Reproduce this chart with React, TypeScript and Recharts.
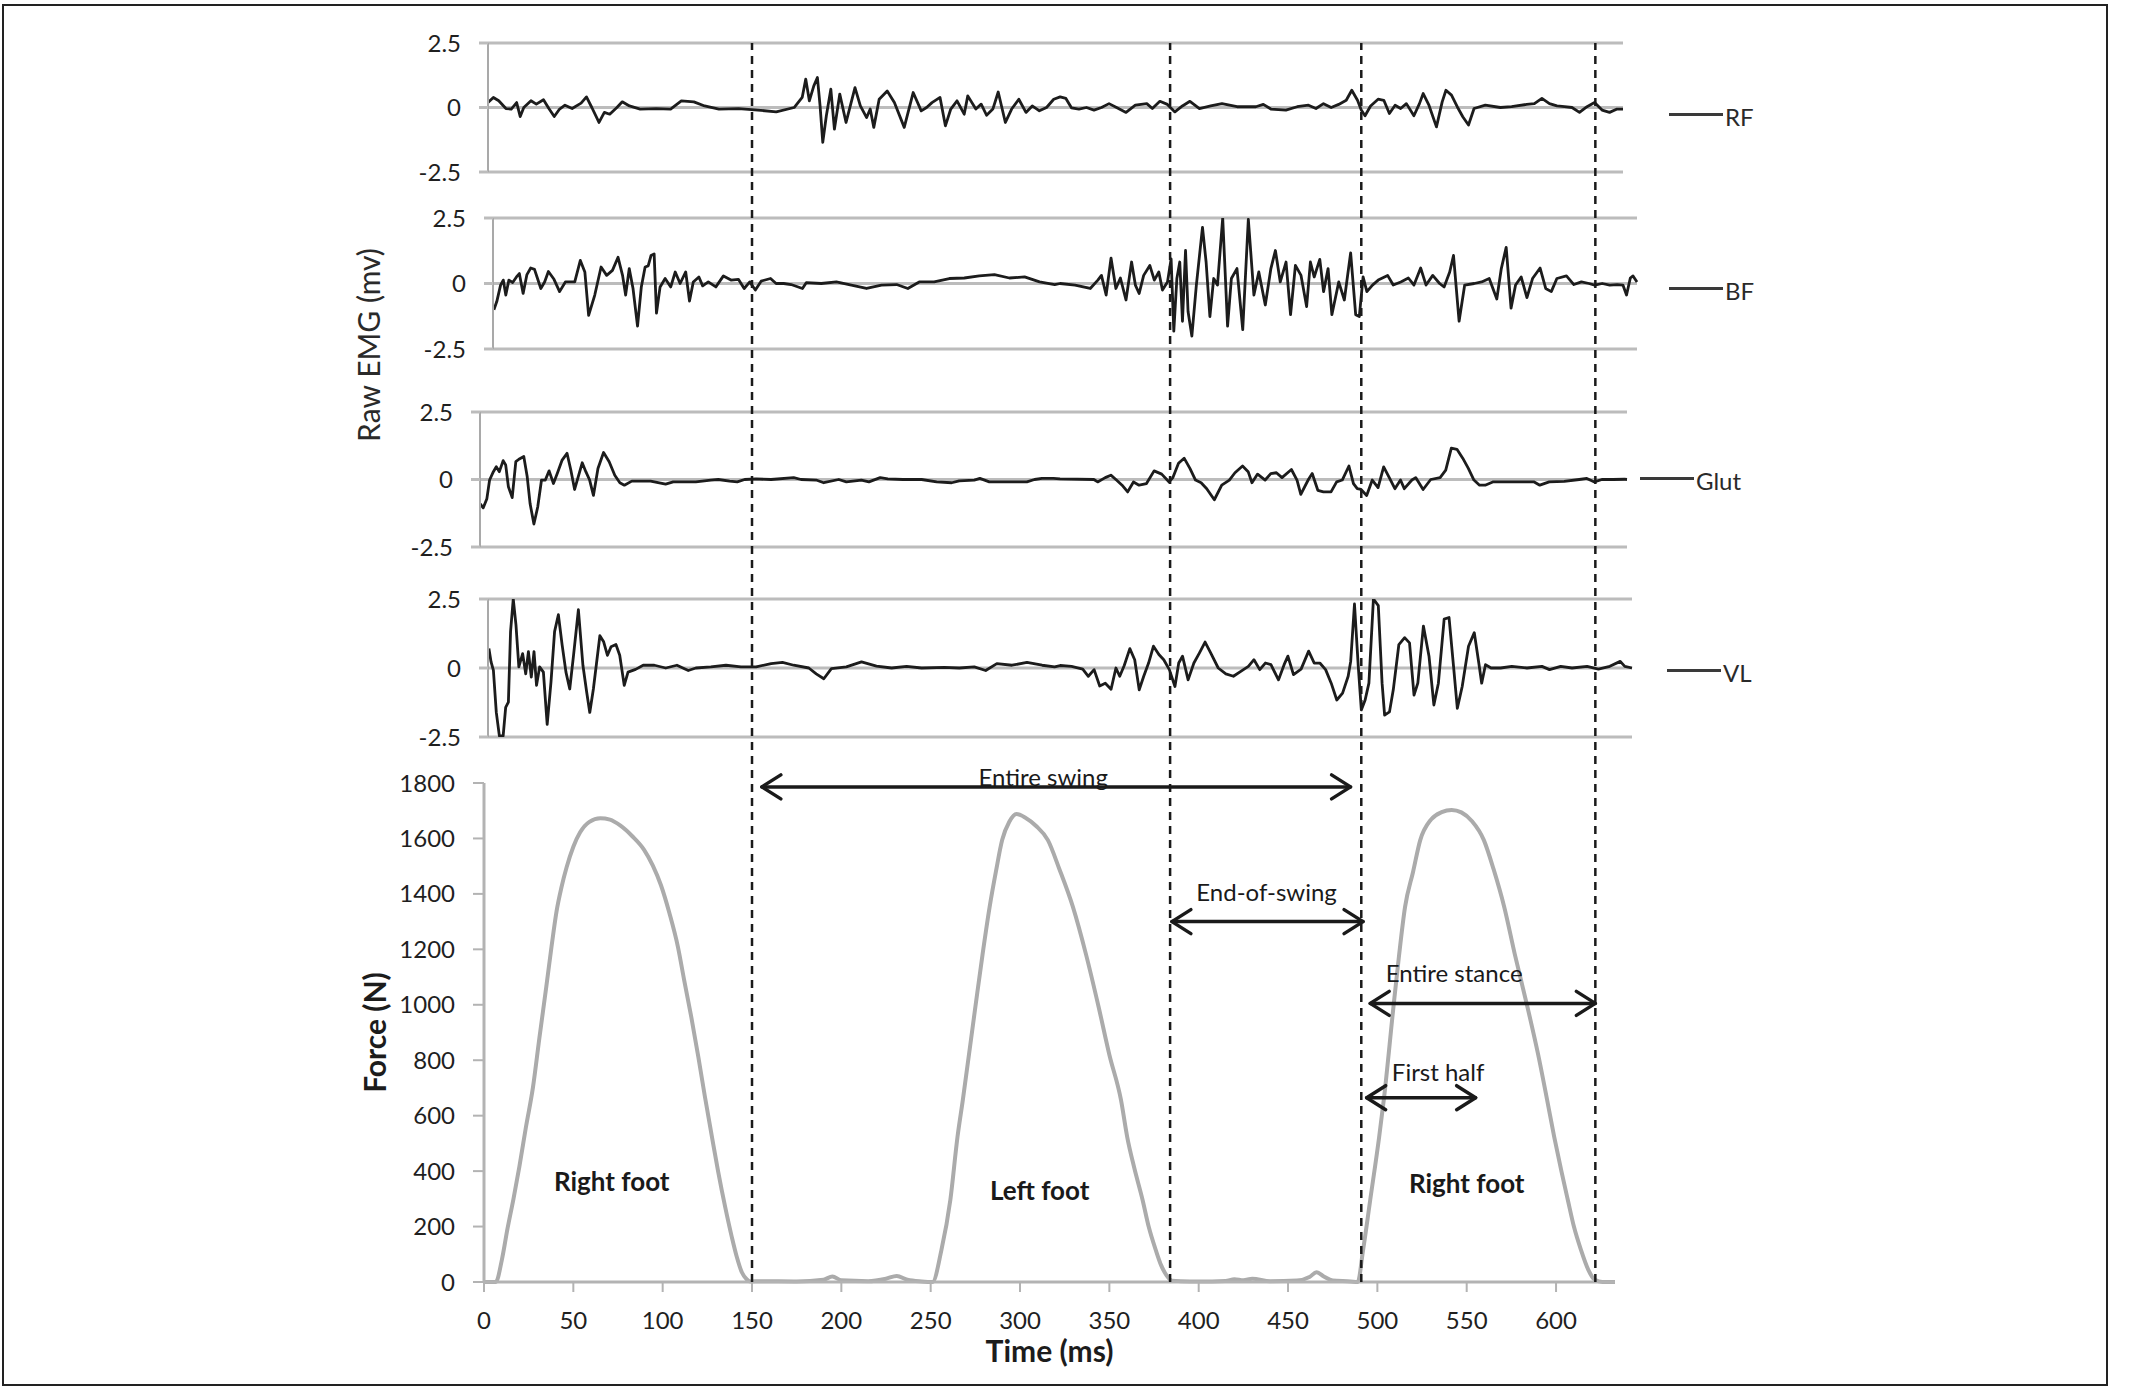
import React from 'react';
import {
  LineChart,
  Line,
  XAxis,
  YAxis,
  CartesianGrid,
  ReferenceLine,
  ReferenceDot,
  Legend,
} from 'recharts';

const FONT = "Lato, 'Open Sans', 'DejaVu Sans', sans-serif";
const W = 2134;
const H = 1388;
const INK = '#1c1c1c';
const GRID = '#bcbcbc';
const AXIS = '#a9a9a9';
const FORCE_AXIS = '#b3b3b3';
const FORCE_LINE = '#ababab';

// ---------- tick labels ----------
const timeTicks = [0, 50, 100, 150, 200, 250, 300, 350, 400, 450, 500, 550, 600];
const forceTicks = [0, 200, 400, 600, 800, 1000, 1200, 1400, 1600, 1800];
const emgTicks = [-2.5, 0, 2.5];

// ---------- vertical ground-contact boundaries (ms) ----------
const phaseBoundaries = [150, 384, 491, 622];

// ---------- phase arrows ----------
const phaseNames = ['Entire swing', 'End-of-swing', 'Entire stance', 'First half'];
const phaseStart = [155.5, 385, 496, 494];
const phaseEnd = [485, 492, 622, 555];
const phaseLevel = [1786, 1300, 1005, 665];
const phaseLabelTime = [313, 438, 543, 534];
const phaseLabelForce = [1822, 1407, 1118, 761];

// ---------- foot labels ----------
const footNames = ['Right foot', 'Left foot', 'Right foot'];
const footLabelTime = [71.5, 311, 550];
const footLabelForce = [364, 332, 357];

// ---------- vertical ground reaction force ----------
const forceTime = [
  0, 4, 6.6, 10, 13.2, 16.5, 19.8, 23.5, 27.4, 31, 34.9, 37.8, 40.6, 43.4, 46.2, 50, 53.8, 59, 65.1, 70.5,
  76.4, 83, 89.6, 94.5, 99, 103.8, 108.5, 112, 116, 120, 123.6, 127.4, 131, 135, 138.7, 141.5, 144.3, 147, 149,
  155, 175, 190, 195, 200, 215, 225, 231, 237, 245, 251,
  256, 261, 265, 268, 275, 279, 283, 286.5, 290, 294, 298, 303, 309, 315.6, 322, 329.6, 337, 344, 350, 356.5,
  360, 364, 368.6, 372, 376, 379, 382, 385,
  390, 400, 415, 420, 425, 430, 440, 455, 462, 466, 470, 475, 485, 489,
  492, 496, 501, 503.6, 509, 512, 515.5, 520, 524, 530, 536, 541.6, 547, 553, 559.6, 565, 571, 577, 584, 590,
  595, 599, 603, 606.6, 610, 614, 618, 621.7, 626, 633,
];
const forceN = [
  0, 0, 0, 80, 194, 300, 416, 560, 702, 880, 1067, 1210, 1337, 1425, 1495, 1570, 1622, 1660, 1673, 1668,
  1646, 1608, 1559, 1502, 1432, 1330, 1210, 1090, 956, 810, 670, 530, 400, 270, 162, 90, 35, 10, 2,
  3, 2, 8, 20, 6, 3, 12, 22, 8, 2, 0,
  115, 296, 523, 657, 992, 1180, 1353, 1480, 1594, 1660, 1688, 1675, 1645, 1594, 1490, 1353, 1180, 992, 820, 657,
  523, 410, 296, 200, 115, 60, 24, 5,
  3, 2, 4, 10, 6, 12, 3, 5, 18, 35, 20, 5, 2, 0,
  115, 296, 523, 657, 992, 1170, 1353, 1480, 1594, 1668, 1695, 1703, 1694, 1662, 1594, 1490, 1353, 1180, 992, 820,
  657, 523, 400, 296, 200, 115, 45, 8, 0, 0,
];

// ---------- RF (rectus femoris) ----------
const rfTime = [
  0, 3, 6, 10, 13, 16, 18, 20, 24, 27, 31, 34, 37, 40, 43, 47, 52, 55, 58, 62, 65, 68, 72, 75, 79, 85, 94, 102,
  108, 115, 121, 129, 140, 149, 161, 171, 175.5, 177.5, 179.5, 182, 184, 185.5, 187, 189, 191.5, 193.5, 196.5,
  200, 205, 208, 211.5, 213.5, 215.5, 218.5, 223, 227, 232.5, 237.5, 242, 245, 248, 252.5, 255.5, 258.5, 262,
  266, 268, 272.5, 275.5, 278.5, 282, 285, 289, 292.5, 296.5, 300.5, 304, 308, 312, 316,
  319.6, 322.8, 325.9, 330.1, 334.3, 338.5, 342.7, 346.9, 351.1, 356.4, 361.6, 368, 371.1, 375.3, 379.5, 383.7,
  387.9, 392.1, 397.4, 403.7, 410, 418.4, 428.9, 433.1, 437.3, 445.7, 452, 458.3, 462.5, 466.7, 471, 475.2,
  479.4, 482.5, 485.7, 487.8, 489.9, 493, 497.2, 500.4, 503.5, 506.7, 509.8, 513, 517.2, 520.3, 522.4, 525.6,
  529.8, 533, 535.1, 538.2, 541.4, 544.5, 547.7, 550.8, 557.1, 565.5, 571.8, 580.2, 584.5, 588.7, 592.9, 597.1,
  601.3, 605.5, 609.7, 613.9, 618.1, 622.3, 626.5, 630.7, 634,
];
const rfMv = [
  0.19, 0.39, 0.26, -0.04, -0.06, 0.19, -0.35, 0, 0.26, 0.13, 0.3, -0.04, -0.35, -0.06, 0.09, -0.04, 0.17, 0.41,
  0, -0.58, -0.19, -0.26, 0, 0.22, 0.06, -0.06, -0.04, -0.06, 0.26, 0.22, 0.06, -0.06, -0.04, -0.09, -0.17, 0,
  0.39, 1.1, 0.26, 0.84, 1.16, 0.06, -1.35, -0.32, 0.71, -0.84, 0.52, -0.58, 0.77, 0.06, -0.39, -0.06, -0.77,
  0.32, 0.64, 0.19, -0.77, 0.58, -0.13, 0, 0.19, 0.39, -0.71, -0.06, 0.26, -0.26, 0.45, -0.06, 0.13, -0.3,
  -0.06, 0.6, -0.58, -0.06, 0.32, -0.19, 0.06, -0.13, 0, 0.32,
  0.41, 0.35, -0.01, -0.06, 0, -0.1, 0, 0.15, 0, -0.19, 0.09, 0.15, -0.04, 0.24, 0.12, -0.17,
  0.06, 0.24, -0.04, 0.06, 0.15, 0.03, 0.03, 0.12, -0.06, -0.1, 0.03, 0.09, -0.04, 0.15, 0, 0.12,
  0.28, 0.67, 0.28, -0.1, -0.32, 0.06, 0.32, 0.28, -0.23, 0.09, -0.04, 0.15, -0.32, 0.15, 0.54, 0.09,
  -0.75, 0.22, 0.67, 0.48, 0.03, -0.36, -0.68, -0.04, 0.09, 0, 0.03, 0.12, 0.15, 0.35, 0.15, 0.06,
  0.03, 0, -0.19, 0.03, 0.19, -0.1, -0.19, -0.06, -0.06,
];

// ---------- BF (biceps femoris) ----------
const bfTime = [
  0.5, 2.1, 4.2, 5.7, 7.1, 8.8, 10.9, 13, 14.6, 16.7, 18.8, 20.9, 23, 24.4, 26.5, 28.6, 30.7, 33.8, 36.9, 40.1,
  45.3, 48.4, 50.9, 53, 56.4, 59.9, 63, 66.2, 69.3, 71.8, 73.5, 75.5, 77.6, 80.1, 82.2, 84.3, 86, 87.6, 89.3,
  90.6, 92.6, 95.4, 98.5, 101, 103.7, 106.8, 108.9, 111, 114.1, 116.2, 119.3, 123.5, 127.7, 131.9, 136, 139.2,
  142.3, 145.4, 148.6, 153.8, 156.9, 161.1, 165.2, 171.5, 173.6, 181.9, 190.3, 198.6, 207, 215.3, 223.7, 229.9,
  236.2, 244.5, 252.9, 261.2, 269.5, 277.9, 286.2, 294.6, 302.9, 311.3,
  314.3, 322.6, 331, 335.2, 337.2, 339.8, 342.5, 345.2, 347.7, 350.8, 353.9, 356, 358.1, 360.6, 364, 366.5,
  369, 371, 373.8, 375.8, 377.3, 379, 380.6, 382.1, 383.8, 385.2, 387.3, 389.8, 393.2, 395.2, 397.3, 399.4,
  401.5, 404.4, 407.1, 409.2, 412.3, 415.5, 418.6, 421.7, 424.4, 428, 431.1, 433.6, 436.3, 439.5, 442, 444.7,
  447.8, 450.9, 453, 455.1, 458.2, 460.3, 462.8, 464.9, 468.7, 471.8, 475.3, 478.1, 480.1, 482.2, 484.3, 487.4,
  490.6, 495.8, 498.9, 503.1, 507.3, 510.4, 514.1, 517.1, 520.8, 524.6, 527.1, 530.2, 532.3, 535.4, 538.5,
  543.8, 547.9, 552.1, 556.3, 558.8, 561.5, 564.2, 566.7, 569.8, 573, 576.1, 580.3, 583.4, 586.5, 589.6, 594.9,
  599, 603.2, 607.4, 610.5, 614.7, 618.9, 623, 626.2, 628.2, 630.3, 631.8, 634,
];
const bfMv = [
  -1.0, -0.69, -0.06, 0.13, -0.44, 0.13, 0.04, 0.25, 0.38, -0.38, 0.34, 0.59, 0.54, 0.25, -0.19, 0.06, 0.46, 0.16,
  -0.31, 0.06, 0.06, 0.88, 0.44, -1.22, -0.44, 0.63, 0.31, 0.5, 1.0, 0.31, -0.44, 0.57, -0.19, -1.63, -0.13, 0.63,
  0.67, 1.07, 1.13, -1.13, -0.13, 0.19, -0.13, 0.44, 0, 0.44, -0.67, 0.06, 0.25, -0.09, 0.06, -0.13, 0.29, 0.13,
  0.16, -0.19, 0.06, -0.25, 0.09, 0.19, 0, 0, -0.04, -0.19, 0.03, 0, 0.06, -0.06, -0.19, -0.06, -0.04, -0.19,
  0.06, 0.06, 0.19, 0.21, 0.29, 0.34, 0.21, 0.25, 0.06, -0.04,
  0, -0.06, -0.19, 0.13, 0.31, -0.44, 0.97, -0.19, 0.21, -0.63, 0.82, -0.06, -0.38, 0.31, 0.69, 0.13,
  0.44, -0.25, 0.06, 0.94, -1.82, 0.19, 0.82, -1.44, 1.26, -1.07, -2.01, -0.06, 2.14, 0.82, -1.26, 0.19,
  -0.06, 2.5, -1.63, 0.19, 0.57, -1.76, 2.45, -0.44, 0.44, -0.82, 0.57, 1.26, 0.06, 0.82, -1.19, 0.69,
  0.31, -0.88, 0.82, 0.25, 0.92, -0.31, 0.57, -1.19, 0.06, -0.63, 1.17, -1.19, -1.26, 0.25, -0.31, -0.06,
  0.13, 0.31, -0.06, 0.06, 0.21, -0.06, 0.59, -0.06, 0.31, 0, -0.13, 0.44, 1.07, -1.44, -0.06,
  0, 0.06, 0.19, -0.59, 0.57, 1.38, -0.94, -0.06, 0.25, -0.54, 0.19, 0.59, -0.19, -0.31, 0.19, 0.29,
  -0.04, 0.06, 0, -0.06, 0, -0.06, -0.04, -0.06, -0.44, 0.21, 0.29, 0.06,
];

// ---------- Glut (gluteus) ----------
const glutTime = [
  0.1, 1.8, 3.8, 5.3, 7.4, 9, 10.7, 12.8, 14.2, 15.7, 17.8, 19.8, 21.5, 24.2, 26.1, 27.7, 29.8, 31.9, 34, 36.1,
  38.2, 40.6, 42.7, 45.4, 48.1, 50.2, 52.3, 54.8, 56.5, 58.5, 60.6, 62.7, 65.2, 68.3, 71.4, 74.5, 77.3, 79.8,
  83.9, 94.3, 102.6, 106.8, 119.3, 127.6, 131.7, 138, 142.2, 146.3, 152.6, 160.9, 173.4, 177.5, 185.8, 190,
  198.3, 202.5, 210.8, 215, 221.2, 225.4, 233.7, 244.1, 252.4, 260.7, 264.9, 273.2, 276.3, 281.5, 289.8, 302.3,
  306.5, 310.6, 317,
  320.6, 339.3, 341.4, 345.6, 348.7, 351.8, 354.9, 358, 361.2, 364.3, 368.4, 372.6, 376.8, 380.9, 383, 386.1,
  389.2, 392.4, 395.5, 398.6, 401.7, 405.9, 410, 414.2, 417.3, 421.5, 424.6, 426.7, 429.8, 434, 437.1, 440.2,
  443.3, 448.5, 451.6, 453.7, 457.9, 460, 463.1, 466.2, 470.4, 473.5, 476.6, 480.3, 482.8, 484.9, 487, 490.1,
  493.2, 496.4, 499.5, 502.6, 505.7, 508.8, 510.9, 515.1, 517.2, 521.3, 525.5, 530.7, 533.8, 536.9, 540, 543.2,
  546.3, 549.4, 552.5, 555.6, 559.8, 570.2, 582.7, 585.8, 591, 599.3, 607.6, 611.8, 616, 620.1, 626.4, 632.6, 634,
];
const glutMv = [
  -0.9, -1.05, -0.71, -0.02, 0.29, 0.47, 0.29, 0.7, 0.54, -0.27, -0.67, 0.66, 0.75, 0.85, 0.1, -0.9, -1.65, -1.02,
  -0.02, -0.02, 0.32, -0.15, 0.22, 0.72, 0.97, 0.35, -0.37, 0.22, 0.62, 0.29, -0.02, -0.59, 0.41, 1.0, 0.66, 0.16,
  -0.12, -0.21, -0.06, -0.06, -0.17, -0.09, -0.09, -0.02, 0, -0.06, -0.09, 0, 0.02, 0, 0.07, 0, -0.02, -0.12,
  0, -0.09, -0.02, -0.09, 0.07, 0.02, 0, 0, -0.09, -0.12, -0.05, -0.02, 0.04, -0.09, -0.09, -0.09,
  0, 0.04, 0.04,
  0.02, 0, -0.09, 0.07, 0.16, -0.02, -0.21, -0.46, -0.09, -0.21, -0.15, 0.32, 0.2, -0.09, 0.07, 0.6,
  0.79, 0.41, -0.02, -0.12, -0.34, -0.75, -0.21, -0.02, 0.25, 0.5, 0.29, -0.12, 0.2, -0.02, 0.22, 0.25,
  0.07, 0.37, -0.02, -0.55, 0, 0.22, -0.4, -0.46, -0.46, -0.09, -0.02, 0.5, -0.15, -0.34, -0.37, -0.59,
  -0.02, -0.3, 0.47, 0.07, -0.34, -0.02, -0.34, -0.02, 0.07, -0.37, 0, 0.07, 0.35, 1.16, 1.12, 0.79,
  0.41, -0.02, -0.21, -0.21, -0.09, -0.09, -0.09, -0.21, -0.09, -0.07, 0, 0.04, -0.09, 0, 0, 0.01, 0,
];

// ---------- VL (vastus lateralis) ----------
const vlTime = [
  0.5, 1.7, 3, 4.6, 6.3, 8.4, 9.8, 11.3, 12.5, 14, 15.5, 17.1, 19.2, 20.9, 22.4, 24, 25.5, 26.9, 28.6, 30.7,
  32.8, 34.9, 36.9, 39, 41.1, 43.2, 45.3, 47.4, 50.1, 52.6, 54.7, 56.4, 58.4, 62, 64.1, 66.2, 68.2, 70.9, 73,
  75.5, 77.6, 81.8, 86, 92.2, 98.5, 104.7, 111, 115.2, 123.5, 131.9, 140.2, 148.6, 156.9, 163.2, 169.4, 177.8,
  181.9, 186.1, 190.3, 198.6, 207, 215.3, 223.7, 232, 240.3, 252.9, 261.2, 269.5, 275.8, 282, 290.4, 298.7,
  307.1, 314,
  317.1, 323.4, 329.6, 332.7, 335.9, 339, 342.1, 345.3, 348, 350.1, 352.6, 355.7, 358.4, 360.9, 363.4, 366.1,
  368.8, 371.8, 374.5, 377.6, 380.7, 382.8, 384.9, 388, 391.2, 394.3, 397.4, 400.5, 404.7, 408.9, 413.1, 417.2,
  421.4, 424.5, 427.7, 430.8, 433.9, 438.1, 441.2, 443.3, 446.4, 450.6, 454.8, 457.9, 461, 464.2, 467.3, 470.4,
  473.6, 476.7, 478.1, 480.2, 482.3, 484, 486.1, 488.2, 490.7, 493.4, 495.5, 496.9, 499.6, 501.7, 504.8, 508,
  510.7, 513.2, 515.3, 518.4, 521.5, 524.2, 526.7, 529.9, 532.6, 535.1, 537.2, 539.9, 543.4, 546.6, 549.1,
  550.7, 552.8, 555.9, 561.2, 567.4, 575.8, 584.1, 588.3, 594.5, 600.8, 609.1, 615.4, 621.7, 627.5, 630, 634,
];
const vlMv = [
  0.71, 0.22, -0.09, -1.61, -2.46, -2.46, -1.43, -1.24, 1.32, 2.5, 1.56, 0.04, 0.52, -0.21, 0.59, -0.33, 0.59,
  -0.63, 0.04, -0.15, -2.04, -0.51, 1.32, 1.93, 0.83, -0.15, -0.76, 0.46, 2.11, 0.1, -0.88, -1.61, -0.76, 1.17,
  0.95, 0.46, 0.77, 0.85, 0.46, -0.63, -0.15, -0.05, 0.1, 0.1, 0, 0.1, -0.09, 0, 0.04, 0.1, 0.04, 0.04, 0.16,
  0.2, 0.1, 0, -0.21, -0.39, -0.02, 0.04, 0.22, 0.07, 0, 0.06, 0, 0.02, 0, 0.04, -0.09, 0.16, 0.1, 0.2, 0.1, 0.04,
  0.09, 0.06, -0.04, -0.3, -0.06, -0.65, -0.55, -0.77, 0, -0.3, 0.09, 0.7, 0.3, -0.79, -0.3, 0.18,
  0.79, 0.49, 0.3, -0.06, -0.67, 0.18, 0.43, -0.43, 0.18, 0.55, 0.94, 0.55, 0, -0.21, -0.3, -0.12,
  0.06, 0.3, -0.06, 0.18, 0.12, -0.43, 0.12, 0.43, -0.24, -0.04, 0.61, 0.18, 0.18, -0.06, -0.55, -1.16,
  -0.91, -0.3, 0.24, 2.32, 0.06, -1.52, -1.16, -0.55, 2.5, 2.26, -0.55, -1.71, -1.59, -0.79, 0.85, 1.1,
  0.91, -0.98, -0.55, 1.52, 0.43, -1.34, -0.55, 1.77, 1.83, 0.06, -1.46, -0.67, 0.79, 1.28, 0.18,
  -0.55, 0.12, 0, 0, 0.06, 0, 0.06, -0.06, 0.06, 0, 0.06, -0.04, 0.06, 0.24, 0.06, 0,
];

// ---------- layout (pixels of each plot area) ----------
type Box = { left: number; right: number; top: number; bottom: number };
const rfBox: Box = { left: 488, right: 1623, top: 43, bottom: 172 };
const bfBox: Box = { left: 493, right: 1637, top: 218, bottom: 349 };
const glutBox: Box = { left: 480, right: 1627, top: 412, bottom: 547 };
const vlBox: Box = { left: 488, right: 1632, top: 599, bottom: 737 };
const forceBox: Box = { left: 484, right: 1615, top: 783, bottom: 1282 };

const toRows = (t: number[], v: number[]) => t.map((x, i) => ({ t: x, v: v[i] }));

const renderLegend = (props: any) => {
  const item = (props.payload || [])[0];
  if (!item) return null;
  return (
    <div style={{ display: 'flex', alignItems: 'center', height: 30 }}>
      <div style={{ width: 54, height: 3, background: '#3a3a3a' }} />
      <span
        style={{
          marginLeft: 2,
          fontFamily: FONT,
          fontSize: 24,
          lineHeight: '30px',
          color: '#2a2a2a',
          position: 'relative',
          top: 3,
        }}
      >
        {item.value}
      </span>
    </div>
  );
};

const EMG_YW = 80;

function EmgPanel(p: { name: string; time: number[]; mv: number[]; box: Box; legendX: number; legendY: number }) {
  const { box } = p;
  return (
    <div style={{ position: 'absolute', left: 0, top: 0 }}>
      <LineChart
        width={W}
        height={H}
        data={toRows(p.time, p.mv)}
        margin={{ top: box.top, bottom: H - box.bottom, left: box.left - EMG_YW, right: W - box.right }}
      >
        <CartesianGrid vertical={false} stroke={GRID} strokeWidth={3} />
        <XAxis type="number" dataKey="t" domain={[0, 634]} hide />
        <YAxis
          type="number"
          domain={[-2.5, 2.5]}
          ticks={emgTicks}
          interval={0}
          width={EMG_YW}
          tickSize={9}
          tickMargin={18}
          allowDataOverflow
          axisLine={{ stroke: AXIS, strokeWidth: 2 }}
          tickLine={{ stroke: GRID, strokeWidth: 3 }}
          tick={{ fontSize: 24, fill: '#1f1f1f', fontFamily: FONT }}
        />
        <Line
          type="linear"
          dataKey="v"
          name={p.name}
          stroke={INK}
          strokeWidth={2.8}
          strokeLinejoin="round"
          dot={false}
          activeDot={false}
          isAnimationActive={false}
        />
        <Legend
          layout="horizontal"
          align="center"
          verticalAlign="middle"
          content={renderLegend}
          wrapperStyle={{ left: p.legendX, top: p.legendY - 15, width: 140, height: 30 }}
        />
      </LineChart>
    </div>
  );
}

const TimeTitle = (p: any) => {
  const vb = p.viewBox || { x: forceBox.left, y: forceBox.bottom, width: forceBox.right - forceBox.left, height: 90 };
  return (
    <text
      x={vb.x + vb.width / 2}
      y={vb.y + 68}
      textAnchor="middle"
      dominantBaseline="central"
      fontFamily={FONT}
      fontWeight={700}
      fontSize={30}
      fill="#1c1c1c"
    >
      Time (ms)
    </text>
  );
};

const ForceTitle = (p: any) => {
  const vb = p.viewBox || { x: forceBox.left - 114, y: forceBox.top, width: 114, height: forceBox.bottom - forceBox.top };
  const cx = vb.x + 4;
  const cy = vb.y + vb.height / 2;
  return (
    <text
      x={cx}
      y={cy}
      transform={`rotate(-90 ${cx} ${cy})`}
      textAnchor="middle"
      dominantBaseline="central"
      fontFamily={FONT}
      fontWeight={700}
      fontSize={30}
      fill="#1c1c1c"
    >
      Force (N)
    </text>
  );
};

const ArrowShape = (p: any) => {
  const { x1, y1, x2, y2 } = p;
  const ax = 19;
  const ay = 12;
  return (
    <g stroke="#1a1a1a" strokeWidth={3.5} fill="none" strokeLinecap="round" strokeLinejoin="round">
      <line x1={x1} y1={y1} x2={x2} y2={y2} />
      <polyline points={`${x1 + ax},${y1 - ay} ${x1},${y1} ${x1 + ax},${y1 + ay}`} />
      <polyline points={`${x2 - ax},${y2 - ay} ${x2},${y2} ${x2 - ax},${y2 + ay}`} />
    </g>
  );
};

const makeTextShape = (text: string, bold: boolean, size: number) => (p: any) => (
  <text
    x={p.cx}
    y={p.cy}
    textAnchor="middle"
    dominantBaseline="central"
    fontFamily={FONT}
    fontWeight={bold ? 700 : 400}
    fontSize={size}
    fill="#1a1a1a"
  >
    {text}
  </text>
);

const F_YW = 114;
const F_XH = 90;

function ForcePanel() {
  const b = forceBox;
  return (
    <div style={{ position: 'absolute', left: 0, top: 0 }}>
      <LineChart
        width={W}
        height={H}
        data={toRows(forceTime, forceN)}
        margin={{ top: b.top, bottom: H - b.bottom - F_XH, left: b.left - F_YW, right: W - b.right }}
      >
        <XAxis
          type="number"
          dataKey="t"
          domain={[0, 633]}
          ticks={timeTicks}
          interval={0}
          height={F_XH}
          tickSize={10}
          tickMargin={20}
          axisLine={{ stroke: FORCE_AXIS, strokeWidth: 3 }}
          tickLine={{ stroke: FORCE_AXIS, strokeWidth: 2 }}
          tick={{ fontSize: 24, fill: '#1f1f1f', fontFamily: FONT }}
          label={<TimeTitle />}
        />
        <YAxis
          type="number"
          domain={[0, 1800]}
          ticks={forceTicks}
          interval={0}
          width={F_YW}
          tickSize={11}
          tickMargin={18}
          axisLine={{ stroke: FORCE_AXIS, strokeWidth: 3 }}
          tickLine={{ stroke: FORCE_AXIS, strokeWidth: 2 }}
          tick={{ fontSize: 24, fill: '#1f1f1f', fontFamily: FONT }}
          label={<ForceTitle />}
        />
        <Line
          type="monotone"
          dataKey="v"
          name="Force"
          stroke={FORCE_LINE}
          strokeWidth={4}
          dot={false}
          activeDot={false}
          isAnimationActive={false}
        />
        {phaseNames.map((n, i) => (
          <ReferenceLine
            key={`arrow-${n}`}
            segment={[
              { x: phaseStart[i], y: phaseLevel[i] },
              { x: phaseEnd[i], y: phaseLevel[i] },
            ]}
            ifOverflow="visible"
            shape={ArrowShape}
          />
        ))}
        {phaseNames.map((n, i) => (
          <ReferenceDot
            key={`lbl-${n}`}
            x={phaseLabelTime[i]}
            y={phaseLabelForce[i]}
            r={4}
            ifOverflow="visible"
            shape={makeTextShape(n, false, 24)}
          />
        ))}
        {footNames.map((n, i) => (
          <ReferenceDot
            key={`foot-${i}`}
            x={footLabelTime[i]}
            y={footLabelForce[i]}
            r={4}
            ifOverflow="visible"
            shape={makeTextShape(n, true, 26)}
          />
        ))}
      </LineChart>
    </div>
  );
}

function BoundaryOverlay() {
  const b = forceBox;
  const top = rfBox.top;
  return (
    <div style={{ position: 'absolute', left: 0, top: 0, pointerEvents: 'none' }}>
      <LineChart
        width={W}
        height={H}
        data={toRows(forceTime, forceN)}
        margin={{ top, bottom: H - b.bottom, left: b.left, right: W - b.right }}
      >
        <XAxis type="number" dataKey="t" domain={[0, 633]} hide />
        <YAxis type="number" domain={[0, 1800]} hide />
        <Line
          type="linear"
          dataKey="v"
          stroke="none"
          strokeOpacity={0}
          dot={false}
          activeDot={false}
          legendType="none"
          isAnimationActive={false}
        />
        {phaseBoundaries.map((x) => (
          <ReferenceLine
            key={`b-${x}`}
            x={x}
            ifOverflow="visible"
            stroke="#1a1a1a"
            strokeWidth={2.5}
            strokeDasharray="8 6"
          />
        ))}
      </LineChart>
    </div>
  );
}

export default function App() {
  return (
    <div style={{ position: 'absolute', left: 0, top: 0, width: W, height: H, background: '#fff', overflow: 'hidden' }}>
      <div
        style={{
          position: 'absolute',
          left: 2,
          top: 4,
          width: 2106,
          height: 1382,
          border: '2px solid #222',
          boxSizing: 'border-box',
        }}
      />
      <EmgPanel name="RF" time={rfTime} mv={rfMv} box={rfBox} legendX={1669} legendY={114} />
      <EmgPanel name="BF" time={bfTime} mv={bfMv} box={bfBox} legendX={1669} legendY={288} />
      <EmgPanel name="Glut" time={glutTime} mv={glutMv} box={glutBox} legendX={1640} legendY={478} />
      <EmgPanel name="VL" time={vlTime} mv={vlMv} box={vlBox} legendX={1667} legendY={670} />
      <ForcePanel />
      <svg width={W} height={H} style={{ position: 'absolute', left: 0, top: 0, pointerEvents: 'none' }}>
        <text
          x={368}
          y={345}
          transform="rotate(-90 368 345)"
          textAnchor="middle"
          dominantBaseline="central"
          fontFamily={FONT}
          fontSize={30}
          fill="#2a2a2a"
        >
          Raw EMG (mv)
        </text>
      </svg>
      <BoundaryOverlay />
    </div>
  );
}
